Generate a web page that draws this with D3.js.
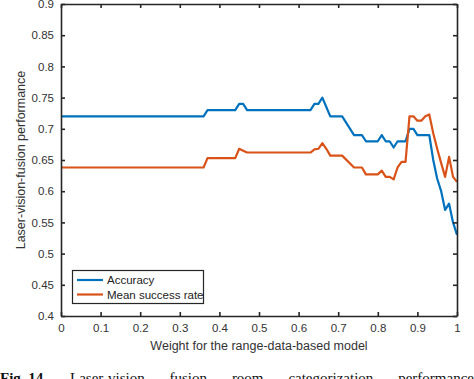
<!DOCTYPE html>
<html><head><meta charset="utf-8">
<script src="https://cdn.jsdelivr.net/npm/d3@7"></script>
<style>
html,body{margin:0;padding:0;background:#fff;overflow:hidden;}
svg{display:block;}
</style></head>
<body>
<script>
// ---- data ----
const weights = [0,0.36,0.37,0.44,0.45,0.46,0.47,0.63,0.64,0.65,0.66,0.67,0.68,0.71,0.74,0.76,0.77,0.80,0.81,0.82,0.83,0.84,0.85,0.86,0.87,0.88,0.89,0.90,0.91,0.92,0.93,0.94,0.95,0.96,0.97,0.98,0.99,1.00];
const accuracy = [0.72,0.72,0.73,0.73,0.74,0.74,0.73,0.73,0.74,0.74,0.75,0.735,0.72,0.72,0.69,0.69,0.68,0.68,0.69,0.68,0.68,0.67,0.68,0.68,0.68,0.70,0.70,0.69,0.69,0.69,0.69,0.65,0.62,0.60,0.57,0.58,0.55,0.53];
const meanSuccess = [0.638,0.638,0.653,0.653,0.668,0.665,0.662,0.662,0.667,0.668,0.677,0.668,0.657,0.657,0.638,0.638,0.627,0.627,0.633,0.623,0.623,0.619,0.638,0.647,0.647,0.72,0.72,0.713,0.713,0.72,0.723,0.693,0.668,0.645,0.623,0.655,0.623,0.615];
const seriesNames = ["Accuracy","Mean success rate"];
const xTicks = [0,0.1,0.2,0.3,0.4,0.5,0.6,0.7,0.8,0.9,1];
const yTicks = [0.4,0.45,0.5,0.55,0.6,0.65,0.7,0.75,0.8,0.85,0.9];
const xLabel = "Weight for the range-data-based model";
const yLabel = "Laser-vision-fusion performance";
const captionBold = "Fig. 14.";
const captionWords = ["Laser-vision","fusion","room","categorization","performance"];

// ---- layout ----
const W = 474, H = 379;
const L = 61, R = 457, T = 4, B = 316;
const colors = ["#0072BD","#D95319"];
const axisColor = "#262626";
const font = "'Liberation Sans', Arial, Helvetica, sans-serif";

const svg = d3.select("body").append("svg").attr("width",W).attr("height",H);
const x = d3.scaleLinear().domain([0,1]).range([L,R]);
const y = d3.scaleLinear().domain([0.4,0.9]).range([B,T]);

// lines
const line = d3.line().x(d=>x(d[0])).y(d=>y(d[1]));
[accuracy, meanSuccess].forEach((vals,i)=>{
  svg.append("path")
    .datum(weights.map((w,j)=>[w,vals[j]]))
    .attr("fill","none").attr("stroke",colors[i]).attr("stroke-width",2.2)
    .attr("stroke-linejoin","round")
    .attr("d",line);
});

// axes
const tl = 4;
const gB = svg.append("g").attr("transform",`translate(0,${B})`)
  .call(d3.axisBottom(x).tickValues(xTicks).tickFormat(d3.format("~g")).tickSizeInner(-tl).tickSizeOuter(0).tickPadding(8));
const gT = svg.append("g").attr("transform",`translate(0,${T})`)
  .call(d3.axisTop(x).tickValues(xTicks).tickFormat("").tickSizeInner(-tl).tickSizeOuter(0));
const gL = svg.append("g").attr("transform",`translate(${L},0)`)
  .call(d3.axisLeft(y).tickValues(yTicks).tickFormat(d3.format("~g")).tickSizeInner(-tl).tickSizeOuter(0).tickPadding(7));
const gR = svg.append("g").attr("transform",`translate(${R},0)`)
  .call(d3.axisRight(y).tickValues(yTicks).tickFormat("").tickSizeInner(-tl).tickSizeOuter(0));
[gB,gT,gL,gR].forEach(g=>{
  g.select(".domain").attr("stroke",axisColor).attr("stroke-width",1.6);
  g.selectAll(".tick line").attr("stroke",axisColor).attr("stroke-width",1.6);
  g.selectAll(".tick text").attr("fill","#333").style("font-family",font).style("font-size","11.5px");
});

// axis labels
svg.append("text").attr("x",(L+R)/2).attr("y",350)
  .attr("text-anchor","middle").attr("fill","#333")
  .style("font-family",font).style("font-size","12.5px").text(xLabel);
svg.append("text").attr("transform",`translate(25,${(T+B)/2}) rotate(-90)`)
  .attr("text-anchor","middle").attr("fill","#333")
  .style("font-family",font).style("font-size","12.5px").text(yLabel);

// legend
const lg = svg.append("g");
lg.append("rect").attr("x",72.5).attr("y",270.5).attr("width",131).attr("height",33)
  .attr("fill","#fff").attr("stroke",axisColor).attr("stroke-width",1.2);
seriesNames.forEach((n,i)=>{
  const yy = 280 + i*14.5;
  lg.append("line").attr("x1",77).attr("x2",103).attr("y1",yy).attr("y2",yy)
    .attr("stroke",colors[i]).attr("stroke-width",2.2);
  lg.append("text").attr("x",107).attr("y",yy+4).attr("fill","#222")
    .style("font-family",font).style("font-size","11.5px").text(n);
});

// caption (justified line, only its top is visible as in the original)
const capFont = "'Liberation Serif','Times New Roman',serif";
const capY = 383;
svg.append("text").attr("x",0).attr("y",capY).attr("fill","#111")
  .style("font-family",capFont).style("font-size","15px").style("font-weight","bold").text(captionBold);
const wordNodes = captionWords.map(w=>svg.append("text").attr("y",capY).attr("fill","#111")
  .style("font-family",capFont).style("font-size","15px").text(w));
const widths = wordNodes.map(n=>n.node().getComputedTextLength());
const startX = 70, endX = 474;
const gap = (endX - startX - d3.sum(widths)) / (captionWords.length - 1);
let cx = startX;
wordNodes.forEach((n,i)=>{ n.attr("x",cx); cx += widths[i] + gap; });
</script>
</body></html>
